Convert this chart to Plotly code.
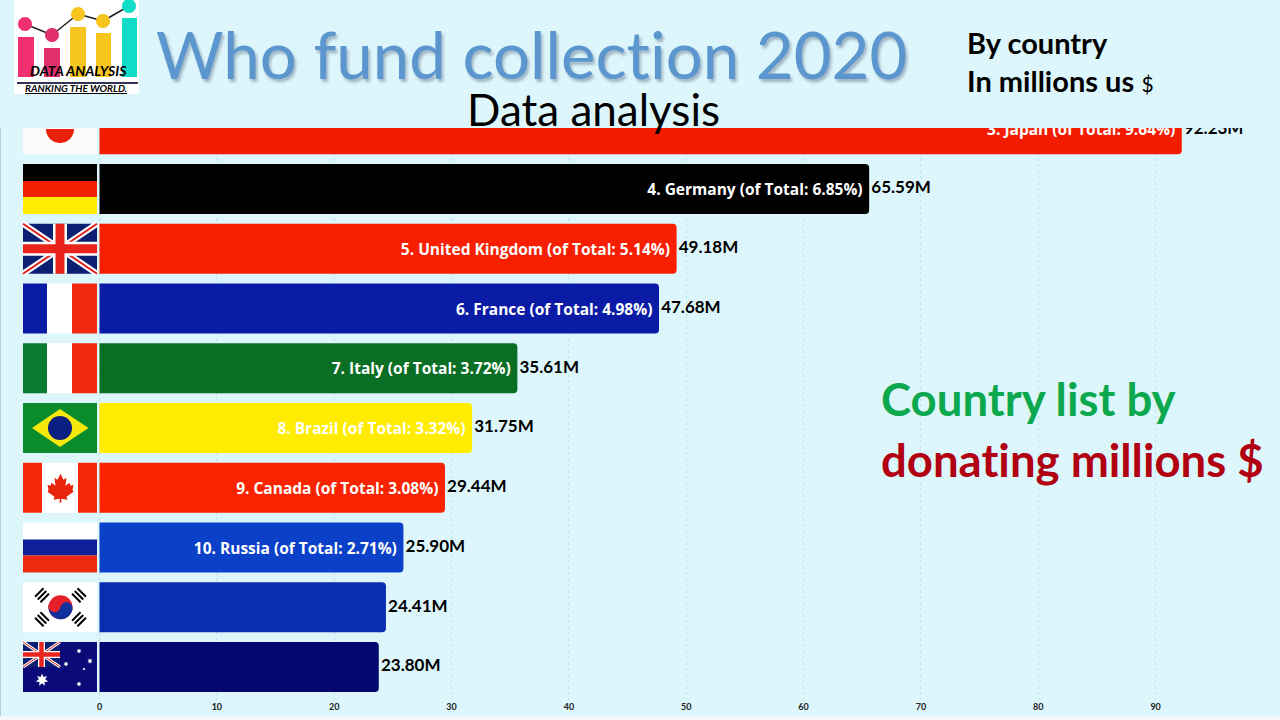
import math
import plotly.graph_objects as go

# values
countries = ["Japan", "Germany", "United Kingdom", "France", "Italy", "Brazil", "Canada", "Russia", "South Korea", "Australia"]
ranks = [3, 4, 5, 6, 7, 8, 9, 10, 11, 12]
funds = [92.23, 65.59, 49.18, 47.68, 35.61, 31.75, 29.44, 25.90, 24.41, 23.80]
shares = [9.64, 6.85, 5.14, 4.98, 3.72, 3.32, 3.08, 2.71, None, None]
bar_colors = ["#F41C00", "#000000", "#F81E00", "#0A1CA6", "#0A6E24", "#FFEC00", "#FA2300", "#0B40C8", "#0A2DB2", "#04086E"]
x_ticks = [0, 10, 20, 30, 40, 50, 60, 70, 80, 90]

BG = "#DDF6FB"
W, H = 1280, 720
FONT = "Lato"
ZWNJ = "\u200c"  # stops Lato joining "ti" into a ligature
THIN = "\u2009"  # small gap between a bar end and its text


def px(x):
    return x / W


def py(y):
    return 1 - y / H


shapes = []


def rect(x0, y0, x1, y1, color):
    shapes.append(dict(type="rect", xref="paper", yref="paper", x0=px(x0), x1=px(x1), y0=py(y0), y1=py(y1),
                       fillcolor=color, line_width=0, layer="above"))


def poly(points, color):
    path = "M " + " L ".join(f"{px(x):.5f},{py(y):.5f}" for x, y in points) + " Z"
    shapes.append(dict(type="path", xref="paper", yref="paper", path=path, fillcolor=color, line_width=0, layer="above"))


def seg(x0, y0, x1, y1, color, width):
    shapes.append(dict(type="line", xref="paper", yref="paper", x0=px(x0), x1=px(x1), y0=py(y0), y1=py(y1),
                       line=dict(color=color, width=width), layer="above"))


def arc(cx, cy, r, a0, a1, color, n=40):
    pts = []
    for i in range(n + 1):
        a = math.radians(a0 + (a1 - a0) * i / n)
        pts.append((cx + r * math.cos(a), cy + r * math.sin(a)))
    poly(pts, color)


def star(cx, cy, r, color, points=7):
    pts = []
    for i in range(points * 2):
        a = math.radians(-90 + i * 180 / points)
        rr = r if i % 2 == 0 else r * 0.5
        pts.append((cx + rr * math.cos(a), cy + rr * math.sin(a)))
    poly(pts, color)


def union_jack(x0, y0, x1, y1, k=1.0):
    cx, cy = (x0 + x1) / 2, (y0 + y1) / 2
    rect(x0, y0, x1, y1, "#0B1F73")
    seg(x0, y0, x1, y1, "white", 6 * k)
    seg(x0, y1, x1, y0, "white", 6 * k)
    seg(x0, y0, x1, y1, "#E0201C", 2 * k)
    seg(x0, y1, x1, y0, "#E0201C", 2 * k)
    rect(cx - 7 * k, y0, cx + 7 * k, y1, "white")
    rect(x0, cy - 7 * k, x1, cy + 7 * k, "white")
    rect(cx - 4.5 * k, y0, cx + 4.5 * k, y1, "#E8241C")
    rect(x0, cy - 4.5 * k, x1, cy + 4.5 * k, "#E8241C")


def trigram(cx, cy, angle):
    a = math.radians(angle)
    dx, dy = math.cos(a), math.sin(a)
    for off in (-3.8, 0, 3.8):
        mx, my = cx + dx * off, cy + dy * off
        seg(mx - dy * 6, my + dx * 6, mx + dy * 6, my - dx * 6, "black", 2)


# flags, drawn next to the bars
FL, FR = 23, 97
row = [129.25 + 59.75 * i for i in range(10)]

# Japan, cut by the header
rect(FL, 128, FR, row[0] + 25, "#FBFBFB")
arc(60, 129, 14, 0, 180, "#E8200C")

# Germany
t = row[1] - 25
rect(FL, t, FR, t + 17, "#000000")
rect(FL, t + 17, FR, t + 33, "#F02000")
rect(FL, t + 33, FR, t + 50, "#FFEC00")

# UK
union_jack(FL, row[2] - 25, FR, row[2] + 25)

# France
t = row[3] - 25
rect(FL, t, 47, t + 50, "#0A1CA6")
rect(47, t, 72, t + 50, "#FFFFFF")
rect(72, t, FR, t + 50, "#F42A10")

# Italy
t = row[4] - 25
rect(FL, t, 47, t + 50, "#0A7A30")
rect(47, t, 72, t + 50, "#FFFFFF")
rect(72, t, FR, t + 50, "#F42A10")

# Brazil
t = row[5] - 25
rect(FL, t, FR, t + 50, "#0A8C2C")
poly([(32, row[5]), (60, t + 6), (88.5, row[5]), (60, t + 44)], "#F6E80A")
arc(60, row[5], 12, 0, 360, "#0A1F80")

# Canada
t = row[6] - 25
rect(FL, t, FR, t + 50, "#FFFFFF")
rect(FL, t, 42, t + 50, "#F62A0A")
rect(78, t, FR, t + 50, "#F62A0A")
cy = row[6]
leaf = [(0, -14), (3, -8), (6, -10), (5, -2), (9, -5), (10, -2), (13, -3), (12, 2), (13, 4), (6, 9), (7, 12), (0.8, 11),
        (0.8, 15), (-0.8, 15), (-0.8, 11), (-7, 12), (-6, 9), (-13, 4), (-12, 2), (-13, -3), (-10, -2), (-9, -5), (-5, -2),
        (-6, -10), (-3, -8)]
poly([(60.5 + a, cy + b) for a, b in leaf], "#E8240C")

# Russia
t = row[7] - 25
rect(FL, t, FR, t + 17, "#FFFFFF")
rect(FL, t + 17, FR, t + 33, "#10209A")
rect(FL, t + 33, FR, t + 50, "#F02A10")

# South Korea
t = row[8] - 25
cy = row[8]
rect(FL, t, FR, t + 50, "#FFFFFF")
arc(60.5, cy, 12, 0, 360, "#E4202A")
arc(60.5, cy, 12, 10, 190, "#10309C")
arc(54.5, cy - 1, 6, 0, 360, "#E4202A")
arc(66.5, cy + 1, 6, 0, 360, "#10309C")
trigram(42, cy - 12, 225)
trigram(79, cy - 12, -45)
trigram(42, cy + 12, 135)
trigram(79, cy + 12, 45)

# Australia
t = row[9] - 25
rect(FL, t, FR, t + 50, "#0A0A78")
union_jack(FL, t, 60, t + 25, 0.5)
for sx, sy, sr in [(79, 651, 2.6), (90, 661, 2.8), (66, 664, 2.6), (84, 669, 1.5), (79, 684, 2.6)]:
    star(sx, sy, sr, "white")
star(42, 680, 6.5, "white")

# logo
rect(14, 0, 139, 94, "#FFFFFF")
for bx0, bx1, by, col in [(18, 34, 37, "#F0306E"), (44, 60, 48, "#E0306E"), (70, 86, 27, "#F6C51E"),
                          (96, 111, 33, "#F6C51E"), (122, 137, 18, "#10DCC8")]:
    rect(bx0, by, bx1, 77, col)
dots = [(25, 24, "#F0306E"), (52, 35, "#E0306E"), (78, 14, "#F6C51E"), (103, 21, "#F6C51E"), (129, 6, "#10DCC8")]
for (x0, y0, _), (x1, y1, _) in zip(dots, dots[1:]):
    seg(x0, y0, x1, y1, "#222222", 1.6)
for dx, dy, col in dots:
    arc(dx, dy, 7, 0, 360, col, n=20)
seg(17, 83, 138, 83, "#333355", 2)

# page furniture
rect(0, 716, W, H, "#F2F8FA")
rect(0, 128, 1, 716, "#B8D0D8")

annotations = []


def label(x, y, text, size, color="#000000", anchor="left", shadow=None, family=FONT):
    annotations.append(dict(xref="paper", yref="paper", x=px(x), y=py(y), text=text, showarrow=False,
                            xanchor=anchor, yanchor="middle",
                            font=dict(family=family, size=size, color=color, shadow=shadow or "none")))


label(78, 71, "<b><i>DATA ANALYSIS</i></b>", 14, anchor="center")
label(76, 88, "<b><i><u>RANKING THE WORLD.</u></i></b>", 10, anchor="center")
label(154, 54, f"Who fund collect{ZWNJ}ion 2020", 65.3, "#5B96CF", shadow="2px 3px 3px #9FB4C4")
label(593, 109, "Data analysis", 44, anchor="center")
label(965, 42, "<b>By country</b>", 29)
label(965, 80, '<b>In millions us</b> <span style="font-size:21px">$</span>', 29)
label(879, 398, "<b>Country list by</b>", 45.5, "#0BA84E")
label(879, 460, f"<b>donat{ZWNJ}ing millions $</b>", 45.5, "#B00012")

inner_labels = []
for rank, name, share in zip(ranks, countries, shares):
    if share is None:
        inner_labels.append("")
    else:
        inner_labels.append(f"{rank}. {name} (of Total: {share:.2f}%){THIN}")

fig = go.Figure()
fig.add_trace(go.Bar(
    y=countries, x=funds, orientation="h", width=0.835,
    marker=dict(color=bar_colors, cornerradius=4, line_width=0),
    text=inner_labels, textposition="inside", insidetextanchor="end", textangle=0,
    constraintext="none", cliponaxis=True,
    insidetextfont=dict(family="Open Sans", size=15.5, color="white", weight="bold"),
))
fig.add_trace(go.Scatter(
    y=countries, x=funds, mode="text", cliponaxis=True,
    text=[f"{THIN}{v:.2f}M" for v in funds], textposition="middle right",
    textfont=dict(family=FONT, size=17, color="black", weight="bold"),
))

fig.update_layout(
    width=W, height=H, margin=dict(l=0, r=0, t=0, b=0),
    paper_bgcolor=BG, plot_bgcolor=BG, showlegend=False,
    shapes=shapes, annotations=annotations, font=dict(family=FONT),
)
fig.update_xaxes(range=[-8.48, 100.6], tickvals=x_ticks, showgrid=True, gridcolor="#BFE3EA", griddash="dot",
                 gridwidth=1, zeroline=False, showline=False, ticks="",
                 tickfont=dict(family=FONT, size=9, color="#222222", weight="bold"))
fig.update_yaxes(domain=[20 / H, 592 / H], range=[9.552, -0.021], type="category",
                 categoryorder="array", categoryarray=countries, showticklabels=False, showgrid=False,
                 zeroline=False, showline=False, ticks="")

fig.write_html("out.html", config=dict(displayModeBar=False),
               post_script="document.body.style.margin='0';document.body.style.background='#DDF6FB';")
